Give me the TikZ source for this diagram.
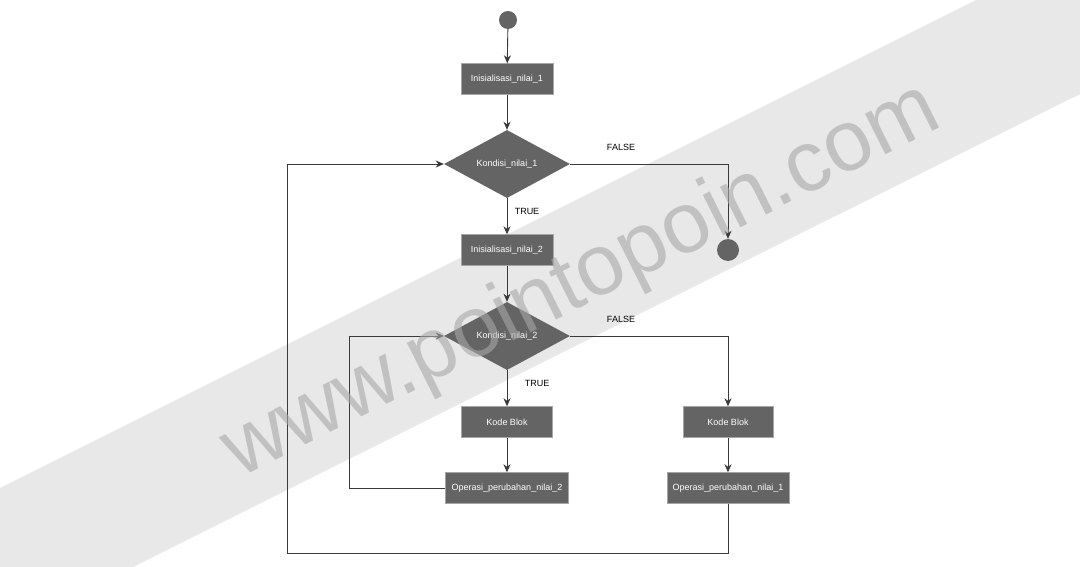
\documentclass[tikz,border=0pt]{standalone}
\usepackage{fontspec}
\setmainfont{Liberation Sans}
\usetikzlibrary{shapes.geometric,arrows.meta}

\definecolor{boxgray}{HTML}{646464}
\definecolor{linegray}{HTML}{3A3A3A}
\definecolor{bandgray}{HTML}{E8E8E8}
\definecolor{markgray}{HTML}{A8A8A8}

\begin{document}
\begin{tikzpicture}[x=1pt,y=-1pt]
          \tikzset{proc box/.style={draw=gray!70,fill=boxgray,text=white,minimum width=#1,minimum height=31pt,inner sep=1pt,font=\fontsize{9}{10}\selectfont}}
          \tikzset{cond diamond/.style={diamond,aspect=1.85,fill=boxgray,text=white,minimum width=126pt,minimum height=68pt,inner sep=1pt,font=\fontsize{9}{10}\selectfont}}
          \tikzset{term circle/.style={circle,fill=boxgray,minimum size=#1,inner sep=0pt}}
          \tikzset{flow line/.style={draw=linegray,line width=0.9pt,-{Stealth[length=8pt,width=7pt,inset=2.5pt]}}}
          \tikzset{edge label/.style={font=\fontsize{9}{10}\selectfont}}

          \useasboundingbox (0,0) rectangle (1080,567);
          \fill[white] (0,0) rectangle (1080,567);
          \fill[bandgray] (0,488) -- (976,0) -- (1080,0) -- (1080,94) -- (133,567) -- (0,567) -- cycle;

          \node [term circle = 18pt] (start) at (508,20) {};
          \node [proc box = 92pt] (init1) at (507,79) {Inisialisasi\_nilai\_1};
          \node [cond diamond] (cond1) at (507,164) {Kondisi\_nilai\_1};
          \node [term circle = 22pt] (stop) at (728,250) {};
          \node [proc box = 92pt] (init2) at (507,250) {Inisialisasi\_nilai\_2};
          \node [cond diamond] (cond2) at (507,336) {Kondisi\_nilai\_2};
          \node [proc box = 91pt] (blok2) at (507,422) {Kode Blok};
          \node [proc box = 123pt] (op2) at (507,488) {Operasi\_perubahan\_nilai\_2};
          \node [proc box = 90pt] (blok1) at (728,422) {Kode Blok};
          \node [proc box = 122pt] (op1) at (728,488) {Operasi\_perubahan\_nilai\_1};

          \node [edge label] (false1) at (621,147) {FALSE};
          \node [edge label] (true1) at (527,211) {TRUE};
          \node [edge label] (false2) at (621,319) {FALSE};
          \node [edge label] (true2) at (537,383) {TRUE};

          \coordinate (back2) at (349,488);
          \coordinate (back1) at (287,553);

          \draw [flow line] (start) -- (init1);
          \draw [flow line] (init1) -- (cond1);
          \draw [flow line] (cond1) -- (init2);
          \draw [flow line] (cond1.east) -| (stop);
          \draw [flow line] (init2) -- (cond2);
          \draw [flow line] (cond2) -- (blok2);
          \draw [flow line] (cond2.east) -| (blok1);
          \draw [flow line] (blok2) -- (op2);
          \draw [flow line] (blok1) -- (op1);
          \draw [flow line] (op2.west) -- (back2) |- (cond2.west);
          \draw [flow line] (op1.south) |- (back1) |- (cond1.west);

          % watermark
          \node [rotate=26.57,text=markgray,opacity=0.6,font=\fontsize{86}{90}\selectfont] (mark) at (582,282) {www.pointopoin.com};

        \end{tikzpicture}
\end{document}
